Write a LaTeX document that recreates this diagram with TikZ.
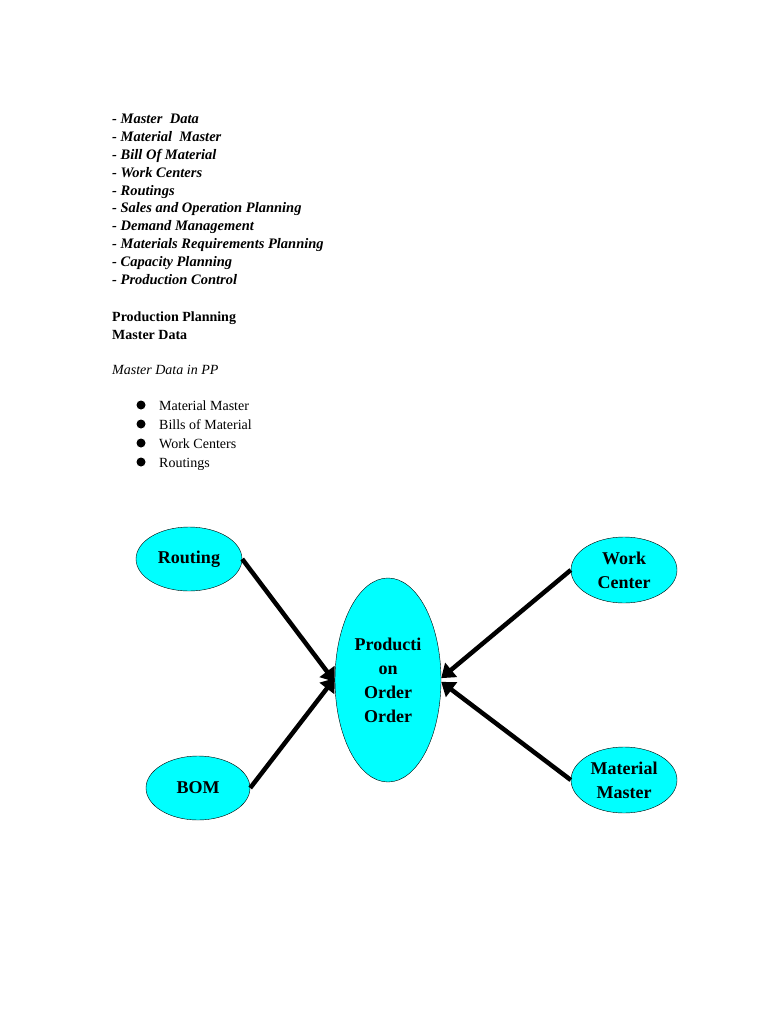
\documentclass[tikz,border=0pt]{standalone}
\usepackage{fontspec}
\setmainfont{Liberation Serif}
\usetikzlibrary{shapes.geometric,arrows.meta}
\definecolor{aqua}{RGB}{0,255,255}
\begin{document}
\begin{tikzpicture}[x=1pt,y=-1pt,
  ell/.style={ellipse,draw=black,fill=aqua,inner sep=0pt,font=\bfseries\fontsize{18}{24}\selectfont,align=center},
  arr/.style={line width=4.5pt,-{Triangle[length=13pt,width=18pt]}},
  lst/.style={anchor=base west,inner sep=0pt,font=\bfseries\itshape\fontsize{14.5}{16}\selectfont},
  txt/.style={anchor=base west,inner sep=0pt,font=\bfseries\fontsize{14}{16}\selectfont}]
\useasboundingbox (0,0) rectangle (768,1024);
\foreach \t [count=\i] in {{- Master\ \ Data},{- Material\ \ Master},{- Bill Of Material},{- Work Centers},{- Routings},{- Sales and Operation Planning},{- Demand Management},{- Materials Requirements Planning},{- Capacity Planning},{- Production Control}}
  \node[lst] (l\i) at (112,{124+17.8*(\i-1)}) {\t};
\node[txt] (pp) at (112,321) {Production Planning};
\node[txt] (md) at (112,339) {Master Data};
\node[lst,font=\itshape\fontsize{14}{16}\selectfont] (mdp) at (112,374) {Master Data in PP};
\foreach \t [count=\i] in {Material Master,Bills of Material,Work Centers,Routings} {
  \fill (141,{405+19*(\i-1)}) circle (4.5pt);
  \node[txt,font=\fontsize{14}{16}\selectfont] (b\i) at (159,{410+19*(\i-1)}) {\t};
}
\node[ell,minimum width=106pt,minimum height=64pt] (rout) at (189,559) {Routing};
\node[ell,minimum width=104pt,minimum height=64pt] (bom) at (198,788) {BOM};
\node[ell,minimum width=106pt,minimum height=204pt] (prod) at (388,680) {Producti\\on\\Order\\Order};
\node[ell,minimum width=106pt,minimum height=66pt] (wc) at (624,570) {Work\\Center};
\node[ell,minimum width=106pt,minimum height=66pt] (mm) at (624,780) {Material\\Master};
\draw[arr] (rout.east) -- (prod.182);
\draw[arr] (bom.east) -- (prod.178);
\draw[arr] (wc.west) -- (prod.2);
\draw[arr] (mm.west) -- (prod.-2);
\end{tikzpicture}
\end{document}
